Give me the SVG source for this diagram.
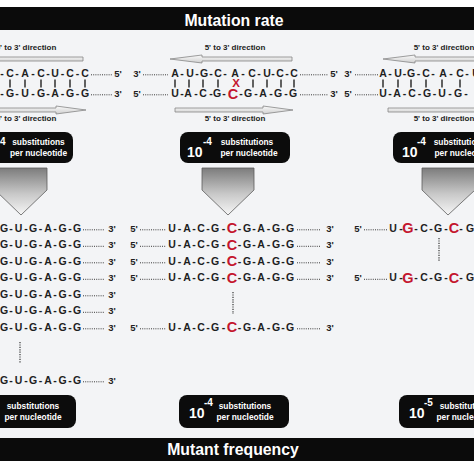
<svg xmlns="http://www.w3.org/2000/svg" width="474" height="474" viewBox="0 0 474 474">
<defs>
<style>
text{font-family:"Liberation Sans",Arial,Helvetica,sans-serif;font-weight:bold}
.s{font-size:10.5px;fill:#1e1e1e;text-anchor:middle}
.p{font-size:9.5px;fill:#1e1e1e;text-anchor:middle}
.R{font-size:14.5px;fill:#c4162e;text-anchor:middle}
.X{font-size:11.5px;fill:#c4162e;text-anchor:middle}
.d{font-size:8px;fill:#222;text-anchor:middle}
.ttl{font-size:15.8px;fill:#fff;text-anchor:middle}
.bt{font-size:8.4px;fill:#fff;text-anchor:middle}
.ten{font-size:14px;fill:#fff}
.sup{font-size:10px;fill:#fff}
.dot{stroke:#3a3a3a;stroke-width:1;stroke-dasharray:1 1.2;fill:none}
.vd{stroke:#333;stroke-width:1.2;stroke-dasharray:1.2 1.2;fill:none}
.bar{stroke:#222;stroke-width:1.4}
.box{fill:#0c0c0c}
.da{fill:url(#ga);stroke:#858585;stroke-width:0.8}
.chev{fill:url(#gc);stroke:#5a5a5a;stroke-width:0.8}
</style>
<linearGradient id="ga" x1="0" y1="0" x2="0" y2="1"><stop offset="0" stop-color="#fafafa"/><stop offset="1" stop-color="#cfcfcf"/></linearGradient>
<linearGradient id="gc" x1="0" y1="0" x2="0" y2="1"><stop offset="0" stop-color="#7c7c7c"/><stop offset="0.55" stop-color="#c8c8c8"/><stop offset="1" stop-color="#f6f6f6"/></linearGradient>
<g id="rowL">
<text class="s" y="3.8" x="4 11 18.5 26 33 40.5 48 55 62.5 70 77">G-U-G-A-G-G</text>
<line class="dot" x1="83" y1="1.8" x2="105" y2="1.8"/>
<text class="p" x="112" y="3.8">3'</text>
</g>
<g id="rowM">
<text class="p" x="134" y="3.8">5'</text>
<line class="dot" x1="140" y1="1.8" x2="166" y2="1.8"/>
<text class="s" y="3.8" x="172 179.5 187 194 201 208 215 223.5 239.5 247 254 261 268.5 276 283 290">U-A-C-G--G-A-G-G</text>
<text class="R" x="232" y="5.2">C</text>
<line class="dot" x1="297" y1="1.8" x2="321" y2="1.8"/>
<text class="p" x="330" y="3.8">3'</text>
</g>
<g id="rowR">
<text class="p" x="358" y="3.8">5'</text>
<line class="dot" x1="364" y1="1.8" x2="387" y2="1.8"/>
<text class="s" y="3.8" x="393 401 416 424 431 438 446 461 470">U--C-G--G</text>
<text class="R" y="5.2" x="408 454">GC</text>
</g>
</defs>

<rect x="0" y="0" width="474" height="474" fill="#ffffff"/>
<rect x="0" y="30" width="474" height="408" fill="#f3f4f6"/>

<g id="title-top">
<rect x="0" y="7" width="474" height="23" fill="#0b0b0b"/>
<text class="ttl" x="234" y="25.5">Mutation rate</text>
</g>
<g id="title-bottom">
<rect x="0" y="438" width="474" height="23" fill="#0b0b0b"/>
<text class="ttl" x="233" y="454.5">Mutant frequency</text>
</g>

<g id="duplex-left">
<text class="d" x="26" y="50">5' to 3' direction</text>
<polygon class="da" points="-39,59 -7,55 -7,57 83,57 83,61 -7,61 -7,63"/>
<text class="s" y="76.8" x="2 10 17 25 33 41 48 55 62.5 70 77.5 85">-C-A-C-U-C-C</text>
<line class="dot" x1="91" y1="74.8" x2="112" y2="74.8"/>
<text class="p" x="118" y="76.8">5'</text>
<g class="bar"><line x1="10" y1="79.5" x2="10" y2="87.5"/><line x1="25" y1="79.5" x2="25" y2="87.5"/><line x1="41" y1="79.5" x2="41" y2="87.5"/><line x1="55" y1="79.5" x2="55" y2="87.5"/><line x1="70" y1="79.5" x2="70" y2="87.5"/><line x1="85" y1="79.5" x2="85" y2="87.5"/></g>
<text class="s" y="96.8" x="2 10 17 25 33 41 48 55 62.5 70 77.5 85">-G-U-G-A-G-G</text>
<line class="dot" x1="91" y1="94.8" x2="112" y2="94.8"/>
<text class="p" x="118" y="96.8">3'</text>
<polygon class="da" points="86,110 56,106 56,108 -34,108 -34,112 56,112 56,114"/>
<text class="d" x="26" y="121">5' to 3' direction</text>
</g>

<g id="duplex-middle">
<text class="d" x="235" y="50">5' to 3' direction</text>
<polygon class="da" points="170,59 202,55 202,57 292,57 292,61 202,61 202,63"/>
<text class="p" x="137" y="76.8">3'</text>
<line class="dot" x1="143" y1="74.8" x2="168" y2="74.8"/>
<text class="s" y="76.8" x="175 182 190 197 204 211 218 225 235 243 252 259 267 273 280 287 294">A-U-G-C-A-C-U-C-C</text>
<line class="dot" x1="300" y1="74.8" x2="328" y2="74.8"/>
<text class="p" x="334" y="76.8">5'</text>
<g class="bar"><line x1="175" y1="79.5" x2="175" y2="87.5"/><line x1="189" y1="79.5" x2="189" y2="87.5"/><line x1="203" y1="79.5" x2="203" y2="87.5"/><line x1="218" y1="79.5" x2="218" y2="87.5"/><line x1="253" y1="79.5" x2="253" y2="87.5"/><line x1="267" y1="79.5" x2="267" y2="87.5"/><line x1="281" y1="79.5" x2="281" y2="87.5"/><line x1="294" y1="79.5" x2="294" y2="87.5"/></g>
<text class="X" x="236" y="87">X</text>
<text class="p" x="137" y="96.8">5'</text>
<line class="dot" x1="143" y1="94.8" x2="168" y2="94.8"/>
<text class="s" y="96.8" x="175 182 188 196 203 211 217 224 241 248 256 263 271 278 286 293">U-A-C-G--G-A-G-G</text>
<text class="R" x="233" y="98.6">C</text>
<line class="dot" x1="300" y1="94.8" x2="328" y2="94.8"/>
<text class="p" x="334" y="96.8">3'</text>
<polygon class="da" points="293,110 263,106 263,108 175,108 175,112 263,112 263,114"/>
<text class="d" x="235" y="121">5' to 3' direction</text>
</g>

<g id="duplex-right">
<text class="d" x="444" y="50">5' to 3' direction</text>
<polygon class="da" points="383,59 415,55 415,57 505,57 505,61 415,61 415,63"/>
<text class="p" x="348" y="76.8">3'</text>
<line class="dot" x1="355" y1="74.8" x2="378" y2="74.8"/>
<text class="s" y="76.8" x="383 390 398 404.5 411 418.5 426 433 443 451 460 467 476">A-U-G-C-A-C-U</text>
<g class="bar"><line x1="383" y1="79.5" x2="383" y2="87.5"/><line x1="398" y1="79.5" x2="398" y2="87.5"/><line x1="411" y1="79.5" x2="411" y2="87.5"/><line x1="426" y1="79.5" x2="426" y2="87.5"/><line x1="442" y1="79.5" x2="442" y2="87.5"/><line x1="460" y1="79.5" x2="460" y2="87.5"/></g>
<text class="p" x="348" y="96.8">5'</text>
<line class="dot" x1="355" y1="94.8" x2="378" y2="94.8"/>
<text class="s" y="96.8" x="383 390 397 404.5 412 419.5 427 434.5 442 450 458 466">U-A-C-G-U-G-</text>
<polygon class="da" points="506,110 476,106 476,108 388,108 388,112 476,112 476,114"/>
<text class="d" x="444" y="121">5' to 3' direction</text>
</g>

<g id="rate-left">
<rect class="box" x="-40" y="132" width="113" height="31" rx="8"/>
<text class="sup" x="5.5" y="145" text-anchor="end">-4</text>
<text class="bt" x="38.5" y="145">substitutions</text>
<text class="bt" x="38.5" y="156">per nucleotide</text>
</g>
<g id="rate-middle">
<rect class="box" x="180" y="132" width="110" height="31" rx="8"/>
<text class="ten" x="187" y="156.5">10</text>
<text class="sup" x="203" y="145">-4</text>
<text class="bt" x="247" y="145">substitutions</text>
<text class="bt" x="249" y="156">per nucleotide</text>
</g>
<g id="rate-right">
<rect class="box" x="393" y="132" width="115" height="31" rx="8"/>
<text class="ten" x="402" y="156.5">10</text>
<text class="sup" x="417" y="145">-4</text>
<text class="bt" x="460" y="145">substitutions</text>
<text class="bt" x="463" y="156">per nucleotide</text>
</g>

<g id="connectors">
<polygon class="chev" points="-5,168 47,168 47,190 21,215 -5,190"/>
<polygon class="chev" points="202,168 254,168 254,190 228,215 202,190"/>
<polygon class="chev" points="422,168 475,168 475,190 448,215 422,190"/>
</g>

<g id="progeny-left">
<use href="#rowL" y="228"/>
<use href="#rowL" y="244.5"/>
<use href="#rowL" y="261"/>
<use href="#rowL" y="277.5"/>
<use href="#rowL" y="294"/>
<use href="#rowL" y="310.5"/>
<use href="#rowL" y="327"/>
<line class="vd" x1="20" y1="342" x2="20" y2="363"/>
<use href="#rowL" y="380"/>
</g>
<g id="progeny-middle">
<use href="#rowM" y="228"/>
<use href="#rowM" y="244.5"/>
<use href="#rowM" y="261"/>
<use href="#rowM" y="277.5"/>
<line class="vd" x1="233" y1="292" x2="233" y2="314"/>
<use href="#rowM" y="327"/>
</g>
<g id="progeny-right">
<use href="#rowR" y="228"/>
<line class="vd" x1="439" y1="238" x2="439" y2="262"/>
<use href="#rowR" y="277.5"/>
</g>

<g id="freq-left">
<rect class="box" x="-40" y="395" width="116" height="33" rx="8"/>
<text class="bt" x="33" y="409">substitutions</text>
<text class="bt" x="33" y="420">per nucleotide</text>
</g>
<g id="freq-middle">
<rect class="box" x="179" y="395" width="110" height="33" rx="8"/>
<text class="ten" x="189" y="418">10</text>
<text class="sup" x="204" y="406">-4</text>
<text class="bt" x="245" y="409">substitutions</text>
<text class="bt" x="245" y="420">per nucleotide</text>
</g>
<g id="freq-right">
<rect class="box" x="399" y="395" width="112" height="33" rx="8"/>
<text class="ten" x="409" y="418">10</text>
<text class="sup" x="424" y="406">-5</text>
<text class="bt" x="466" y="409">substitutions</text>
<text class="bt" x="465" y="420">per nucleotide</text>
</g>
</svg>
